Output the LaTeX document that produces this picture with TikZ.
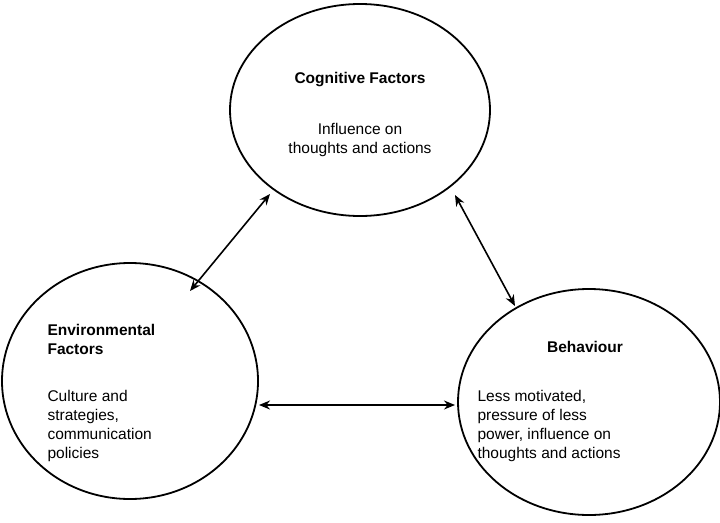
\documentclass[tikz,border=0pt]{standalone}
\usepackage{fontspec}
\setmainfont{Liberation Sans}
\usetikzlibrary{arrows.meta,shapes.geometric}
\begin{document}
\begin{tikzpicture}[x=1pt,y=-1pt,
  factor/.style={draw, line width=1.8pt, ellipse, inner sep=0pt},
  link/.style={{Stealth[length=11pt,width=9pt]}-{Stealth[length=11pt,width=9pt]}, line width=1.6pt},
  txt/.style={font=\fontsize{15.5}{19}\selectfont, align=left}]
\useasboundingbox (0,0) rectangle (720,522);

% Ellipses
\node[factor, minimum width=260, minimum height=212] (cog) at (360,110) {};
\node[factor, minimum width=256, minimum height=236] (env) at (130,381) {};
\node[factor, minimum width=262, minimum height=226] (beh) at (589,402) {};

% Labels
\node[txt, font=\fontsize{15.5}{19}\selectfont\bfseries] (cogT) at (360,80) {Cognitive Factors};
\node[txt, align=center] (cogB) at (360,140) {Influence on\\thoughts and actions};
\node[txt, font=\fontsize{15.5}{19}\selectfont\bfseries, anchor=north west] (envT) at (44,321) {Environmental\\Factors};
\node[txt, anchor=north west] (envB) at (44,387) {Culture and\\strategies,\\communication\\policies};
\node[txt, font=\fontsize{15.5}{19}\selectfont\bfseries] (behT) at (585,347) {Behaviour};
\node[txt, anchor=north west] (behB) at (474,387) {Less motivated,\\pressure of less\\power, influence on\\thoughts and actions};

% Connectors
\coordinate (a1) at (190,291);
\coordinate (a2) at (270,194);
\coordinate (b1) at (455,195);
\coordinate (b2) at (515,306);
\coordinate (c1) at (259,405);
\coordinate (c2) at (455,405);
\draw[link] (a1) -- (a2);
\draw[link] (b1) -- (b2);
\draw[link] (c1) -- (c2);
\end{tikzpicture}
\end{document}
